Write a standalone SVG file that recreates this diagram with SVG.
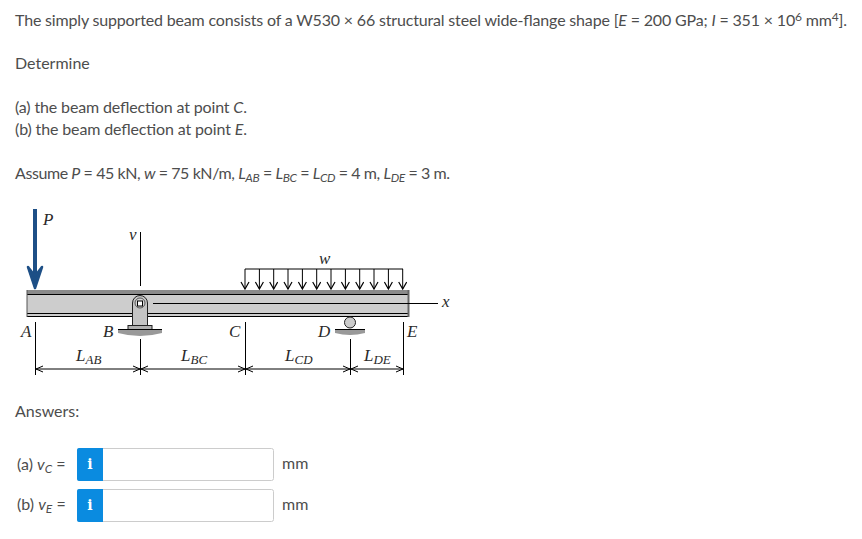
<svg xmlns="http://www.w3.org/2000/svg" width="862" height="539" viewBox="0 0 862 539">
<style>
.t{font-family:Lato,"Liberation Sans",sans-serif;font-size:16px;fill:#4d4d4d}
.i{font-style:italic}
.sub{font-size:12px}
.sup{font-size:12px}
.s{font-family:"Liberation Serif",serif;font-style:italic;font-size:17px;fill:#2a2a2a}
.ss{font-size:13px}
.k{stroke:#000;stroke-width:1;fill:none}
.box{fill:#fff;stroke:#ccc;stroke-width:1}
.tag{fill:#0a8be0}
.ic{font-family:"DejaVu Serif",serif;font-weight:bold;font-size:14px;fill:#fff;text-anchor:middle}
</style>
<defs>
<marker id="dimEnd" markerWidth="10" markerHeight="8" refX="8" refY="4" orient="auto-start-reverse" markerUnits="userSpaceOnUse"><path d="M1 1L8 4L1 7" fill="none" stroke="#000"/></marker>
<marker id="load" markerWidth="10" markerHeight="10" refX="8" refY="4.500" orient="auto" markerUnits="userSpaceOnUse"><path d="M1 .5L8 4.500L1 8.500" fill="none" stroke="#000" stroke-width="1.200"/></marker>
</defs>
<rect width="862" height="539" fill="#fff"/>
<g id="problem-text">
<text class="t" x="15" y="26" textLength="832" lengthAdjust="spacing">The simply supported beam consists of a W530 × 66 structural steel wide-flange shape [<tspan class="i">E</tspan> = 200 GPa; <tspan class="i">I</tspan> = 351 × 10<tspan class="sup" dy="-5">6</tspan><tspan dy="5"> mm</tspan><tspan class="sup" dy="-5">4</tspan><tspan dy="5">].</tspan></text>
<text class="t" x="15" y="69">Determine</text>
<text class="t" x="15" y="113" textLength="232" lengthAdjust="spacing">(a) the beam deflection at point <tspan class="i">C</tspan>.</text>
<text class="t" x="15" y="135" textLength="232" lengthAdjust="spacing">(b) the beam deflection at point <tspan class="i">E</tspan>.</text>
<text class="t" x="15" y="179" textLength="435" lengthAdjust="spacing">Assume <tspan class="i">P</tspan> = 45 kN, <tspan class="i">w</tspan> = 75 kN/m, <tspan class="i">L</tspan><tspan class="i sub" dy="3">AB</tspan><tspan dy="-3"> = </tspan><tspan class="i">L</tspan><tspan class="i sub" dy="3">BC</tspan><tspan dy="-3"> = </tspan><tspan class="i">L</tspan><tspan class="i sub" dy="3">CD</tspan><tspan dy="-3"> = 4 m, </tspan><tspan class="i">L</tspan><tspan class="i sub" dy="3">DE</tspan><tspan dy="-3"> = 3 m.</tspan></text>
<text class="t" x="15" y="417">Answers:</text>
</g>
<g id="beam">
<rect x="27" y="290.500" width="382" height="26" fill="#cdcdcd" stroke="none"/>
<rect x="27" y="290" width="382" height="4" fill="#8a8a8a"/>
<path class="k" d="M27 294.500H409M27 313.500H409M27 316.500H409"/>
<path d="M27 290V317" stroke="#555" stroke-width="1"/>
<path d="M408.500 290V317" stroke="#666" stroke-width="2"/>
</g>
<g id="connectors">
<path class="k" d="M153 303.500H438"/>
<path class="k" d="M140.500 232V286"/>
<path class="k" d="M35.500 322V375M140.500 339V375M245.500 322V375M350.500 339V375M403.500 322V375"/>
<path class="k" d="M36 369H140" marker-start="url(#dimEnd)" marker-end="url(#dimEnd)"/>
<path class="k" d="M141 369H245" marker-start="url(#dimEnd)" marker-end="url(#dimEnd)"/>
<path class="k" d="M246 369H350" marker-start="url(#dimEnd)" marker-end="url(#dimEnd)"/>
<path class="k" d="M351 369H403" marker-start="url(#dimEnd)" marker-end="url(#dimEnd)"/>
<path class="k" d="M245 269H403"/>
<g class="k">
<path d="M245 269V289" marker-end="url(#load)"/><path d="M259.400 269V289" marker-end="url(#load)"/><path d="M273.700 269V289" marker-end="url(#load)"/><path d="M288 269V289" marker-end="url(#load)"/><path d="M302.400 269V289" marker-end="url(#load)"/><path d="M316.700 269V289" marker-end="url(#load)"/><path d="M331 269V289" marker-end="url(#load)"/><path d="M345.400 269V289" marker-end="url(#load)"/><path d="M359.700 269V289" marker-end="url(#load)"/><path d="M374 269V289" marker-end="url(#load)"/><path d="M388.400 269V289" marker-end="url(#load)"/><path d="M402.700 269V289" marker-end="url(#load)"/>
</g>
<path d="M35 209V284" stroke="#1d4f86" stroke-width="4" fill="none"/>
<path d="M28 267L35 288L42 267L35 276Z" fill="#1d4f86" stroke="#1d4f86" stroke-width="2.500" stroke-linejoin="round"/>
</g>
<g id="support-B">
<path d="M132.500 303a7.500 7.500 0 0 1 15 0V325.500H132.500Z" fill="#c4c4c4" stroke="#222"/>
<circle cx="140" cy="303" r="5" fill="#d4d4d4" stroke="#555"/>
<rect x="137.500" y="301" width="5" height="5" fill="#fff" stroke="#000"/>
<rect x="128" y="325.500" width="24" height="4" fill="#b0b0b0" stroke="#222"/>
<path d="M118 329.500H162V333Q140 339 118 333Z" fill="#999"/>
<path d="M118 329.500H162" stroke="#000"/>
</g>
<g id="support-D">
<circle cx="350" cy="322.500" r="5.500" fill="#ccc" stroke="#222"/>
<path d="M335 329.500H365V333Q350 337 335 333Z" fill="#999"/>
<path d="M335 329.500H365" stroke="#000"/>
</g>
<g id="labels">
<text class="s" x="43" y="225">P</text>
<text class="s" x="129" y="240">v</text>
<text class="s" x="319" y="264">w</text>
<text class="s" x="442" y="307">x</text>
<text class="s" x="21" y="337">A</text>
<text class="s" x="103" y="337">B</text>
<text class="s" x="229" y="337">C</text>
<text class="s" x="318" y="337">D</text>
<text class="s" x="407" y="337">E</text>
<text class="s" x="76" y="361">L<tspan class="ss" dy="3">AB</tspan></text>
<text class="s" x="181" y="361">L<tspan class="ss" dy="3">BC</tspan></text>
<text class="s" x="285" y="361">L<tspan class="ss" dy="3">CD</tspan></text>
<text class="s" x="364" y="361">L<tspan class="ss" dy="3">DE</tspan></text>
</g>
<g id="answer-a">
<text class="t" x="17" y="470">(a) <tspan class="i">v</tspan><tspan class="i sub" dy="3">C</tspan><tspan dy="-3"> =</tspan></text>
<rect class="box" x="77.500" y="448.500" width="196" height="32" rx="2"/>
<path class="tag" d="M79 448H103V481H79a2 2 0 0 1-2-2V450a2 2 0 0 1 2-2Z"/>
<text class="ic" x="90" y="469">i</text>
<text class="t" x="282" y="469">mm</text>
</g>
<g id="answer-b">
<text class="t" x="17" y="510">(b) <tspan class="i">v</tspan><tspan class="i sub" dy="3">E</tspan><tspan dy="-3"> =</tspan></text>
<rect class="box" x="77.500" y="489.500" width="196" height="32" rx="2"/>
<path class="tag" d="M79 489H103V522H79a2 2 0 0 1-2-2V491a2 2 0 0 1 2-2Z"/>
<text class="ic" x="90" y="510">i</text>
<text class="t" x="282" y="510">mm</text>
</g>
</svg>
